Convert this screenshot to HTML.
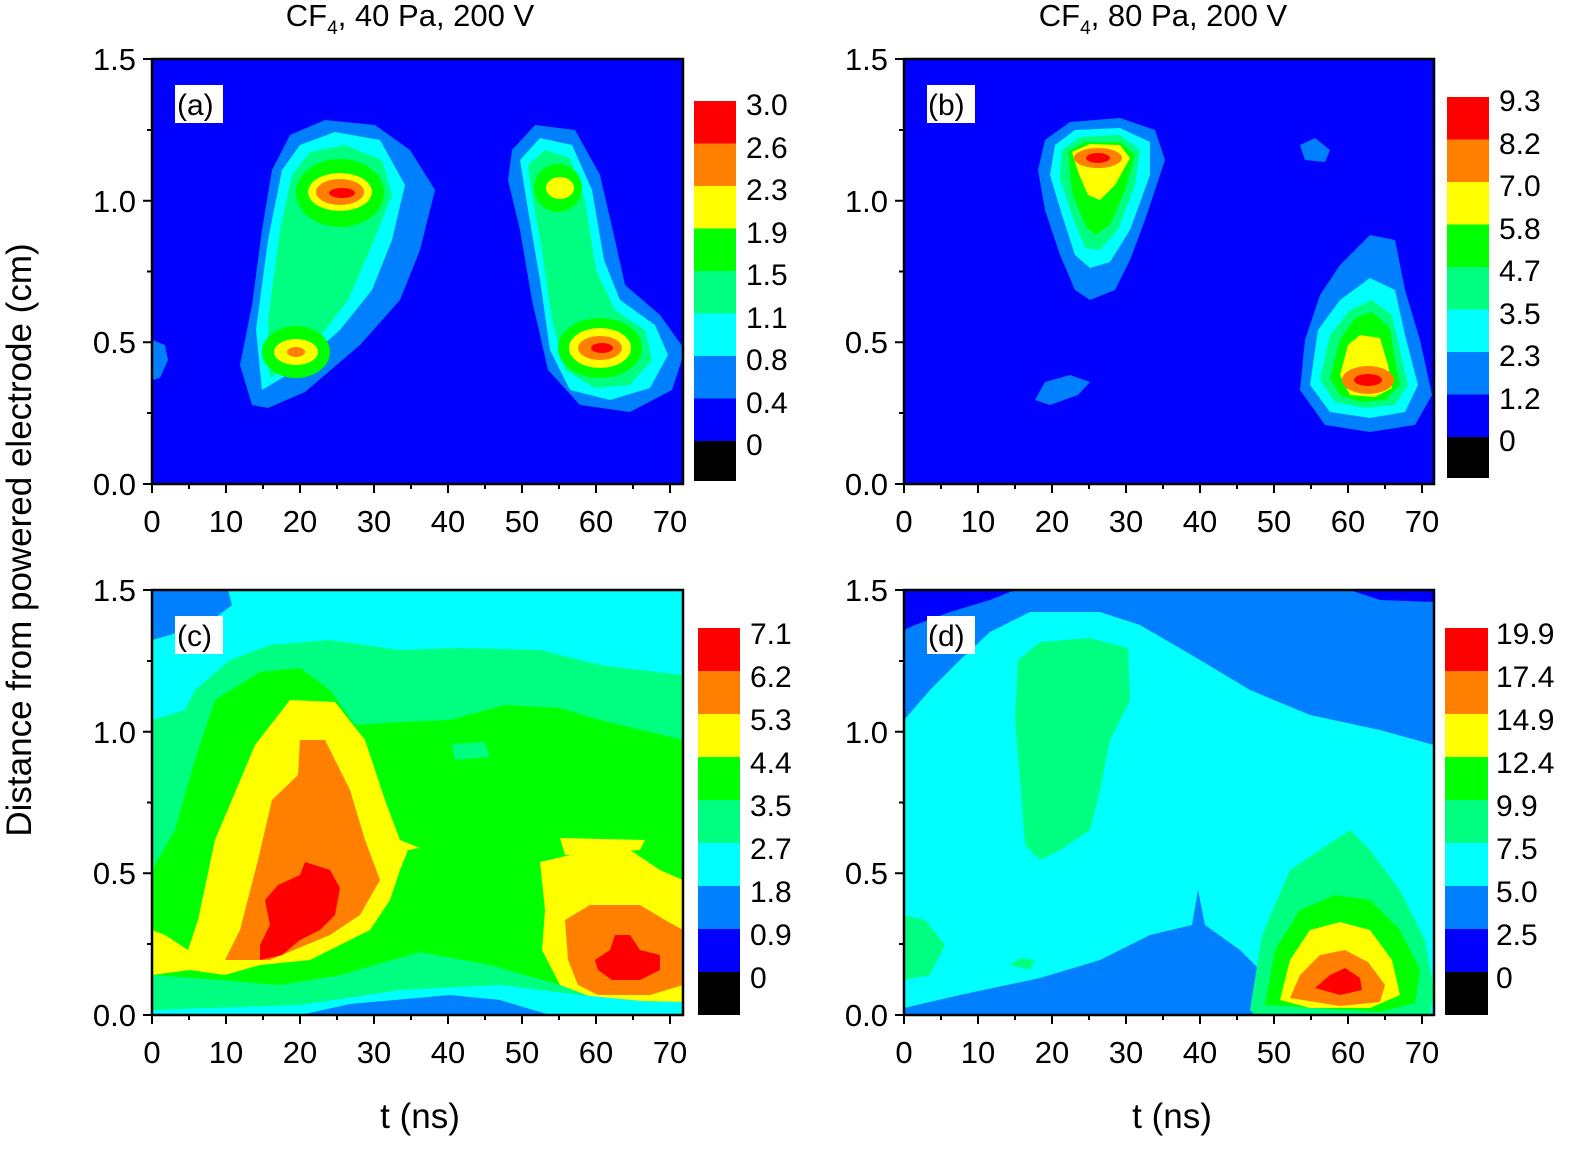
<!DOCTYPE html>
<html><head><meta charset="utf-8"><style>
html,body{margin:0;padding:0;background:#fff}
svg{display:block;font-family:"Liberation Sans",Arial,sans-serif}
</style></head><body>
<svg width="1594" height="1160" viewBox="0 0 1594 1160" xmlns="http://www.w3.org/2000/svg">
<defs>
<clipPath id="ca"><rect x="152" y="59" width="531" height="425"/></clipPath>
<clipPath id="cb"><rect x="904" y="59" width="530" height="425"/></clipPath>
<clipPath id="cc"><rect x="152" y="590" width="531" height="425"/></clipPath>
<clipPath id="cd"><rect x="904" y="590" width="530" height="425"/></clipPath>
</defs>
<!-- Panel a -->
<g clip-path="url(#ca)">
<rect x="152" y="59" width="531" height="425" fill="#0000ff"/>
<path d="M152,340 L165,345 L168,360 L160,378 L152,380Z" fill="#0080ff"/>
<polygon points="252,405 240,365 252,305 262,230 272,170 290,135 325,120 375,125 410,150 435,190 420,250 400,300 360,345 305,392 268,408" fill="#0080ff"/>
<polygon points="262,390 256,330 268,240 282,170 300,145 335,132 380,140 405,185 392,240 372,290 340,330 292,372" fill="#00ffff"/>
<polygon points="270,378 268,320 280,230 292,175 310,152 345,145 382,160 392,195 372,245 348,300 310,350" fill="#00ff80"/>
<ellipse cx="340" cy="193" rx="44" ry="34" fill="#00ff00"/>
<ellipse cx="296" cy="352" rx="34" ry="26" fill="#00ff00"/>
<ellipse cx="340" cy="192" rx="32" ry="19" fill="#ffff00"/>
<ellipse cx="340" cy="192" rx="24" ry="13" fill="#ff8000"/>
<ellipse cx="342" cy="193" rx="13" ry="5" fill="#ff0000"/>
<ellipse cx="296" cy="352" rx="22" ry="13" fill="#ffff00"/>
<ellipse cx="296" cy="352" rx="9" ry="5" fill="#ff8000"/>
<polygon points="512,150 535,125 575,130 600,175 615,240 625,285 660,315 685,350 672,390 630,412 580,405 548,370 532,300 520,230 508,180" fill="#0080ff"/>
<polygon points="520,160 540,138 572,145 592,190 604,260 620,300 655,325 668,355 650,388 610,400 570,390 550,350 540,280 528,210" fill="#00ffff"/>
<polygon points="528,165 545,150 570,158 585,200 596,270 615,310 645,330 652,360 630,385 595,388 565,370 552,320 542,250 532,195" fill="#00ff80"/>
<ellipse cx="558" cy="188" rx="24" ry="24" fill="#00ff00"/>
<ellipse cx="600" cy="348" rx="42" ry="30" fill="#00ff00"/>
<ellipse cx="560" cy="188" rx="14" ry="11" fill="#ffff00"/>
<ellipse cx="600" cy="348" rx="31" ry="20" fill="#ffff00"/>
<ellipse cx="600" cy="348" rx="22" ry="12" fill="#ff8000"/>
<ellipse cx="602" cy="348" rx="11" ry="5" fill="#ff0000"/>
</g>
<!-- Panel b -->
<g clip-path="url(#cb)">
<rect x="904" y="59" width="530" height="425" fill="#0000ff"/>
<polygon points="1045,140 1070,122 1120,118 1155,130 1165,160 1145,220 1130,260 1115,290 1090,300 1075,290 1060,255 1045,210 1038,170" fill="#0080ff"/>
<polygon points="1055,145 1075,130 1120,128 1150,142 1150,175 1130,230 1110,262 1090,268 1075,255 1062,215 1050,175" fill="#00ffff"/>
<polygon points="1062,150 1080,137 1120,135 1140,150 1135,185 1118,230 1100,250 1085,248 1072,215 1060,178" fill="#00ff80"/>
<polygon points="1068,152 1085,142 1120,142 1135,155 1125,190 1110,225 1095,235 1085,225 1072,192" fill="#00ff00"/>
<polygon points="1072,152 1090,144 1120,145 1130,158 1115,185 1100,200 1088,195 1078,172" fill="#ffff00"/>
<ellipse cx="1098" cy="158" rx="24" ry="10" fill="#ff8000"/>
<ellipse cx="1098" cy="158" rx="12" ry="5" fill="#ff0000"/>
<polygon points="1300,145 1315,138 1330,150 1325,162 1305,160" fill="#0080ff"/>
<polygon points="1035,400 1045,382 1070,375 1090,382 1078,395 1050,405" fill="#0080ff"/>
<polygon points="1300,390 1305,340 1320,295 1340,265 1370,235 1395,240 1405,290 1420,340 1432,395 1415,425 1370,432 1325,425" fill="#0080ff"/>
<polygon points="1310,385 1318,330 1340,300 1370,278 1395,290 1405,335 1418,385 1405,412 1370,418 1330,412" fill="#00ffff"/>
<polygon points="1320,380 1330,335 1350,310 1372,300 1392,315 1400,350 1408,385 1395,405 1365,408 1335,402" fill="#00ff80"/>
<polygon points="1330,378 1340,340 1355,318 1372,312 1390,328 1395,360 1400,385 1385,400 1360,402 1340,395" fill="#00ff00"/>
<polygon points="1340,375 1348,345 1360,335 1380,338 1388,365 1392,388 1375,397 1350,395" fill="#ffff00"/>
<ellipse cx="1368" cy="380" rx="26" ry="14" fill="#ff8000"/>
<ellipse cx="1368" cy="380" rx="14" ry="6" fill="#ff0000"/>
</g>
<!-- Panel c -->
<g clip-path="url(#cc)">
<rect x="152" y="590" width="531" height="425" fill="#00ffff"/>
<polygon points="152,590 228,590 232,605 215,618 170,635 152,640" fill="#0080ff"/>
<polygon points="152,720 185,710 195,690 230,660 270,645 330,640 400,650 460,648 540,650 600,665 640,670 683,675 683,1000 600,1005 550,1010 152,1010" fill="#00ff80"/>
<polygon points="152,870 175,830 195,760 215,700 260,672 300,668 330,690 355,725 400,722 450,720 505,705 560,708 600,720 683,740 683,990 560,985 490,965 420,952 340,975 280,985 220,980 152,975" fill="#00ff00"/>
<polygon points="452,744 485,742 490,757 455,760" fill="#00ff80"/>
<polygon points="152,930 165,935 188,950 198,920 215,840 255,745 290,700 335,702 365,740 385,800 400,840 420,848 408,850 400,870 390,900 370,930 310,960 260,965 225,975 190,970 152,975" fill="#ffff00"/>
<polygon points="225,960 240,930 258,860 272,800 298,775 300,740 325,740 335,760 350,790 365,840 380,880 360,915 330,935 270,960" fill="#ff8000"/>
<polygon points="260,960 260,945 270,925 265,900 278,885 300,875 305,862 330,870 340,888 335,915 320,930 300,940 282,955" fill="#ff0000"/>
<polygon points="540,862 570,855 582,840 600,840 630,850 660,870 683,880 683,1002 600,1000 560,985 542,950 545,910" fill="#ffff00"/>
<polygon points="565,855 640,850 645,840 560,838" fill="#ffff00"/>
<polygon points="565,920 590,905 640,905 665,920 683,930 683,985 650,995 598,995 578,985 568,960" fill="#ff8000"/>
<polygon points="595,960 610,950 615,935 630,935 640,950 660,955 660,970 640,980 612,980 598,970" fill="#ff0000"/>
<polygon points="152,1010 300,1005 400,990 500,985 580,995 683,1005 683,1015 152,1015" fill="#00ffff"/>
<polygon points="300,1015 350,1004 450,995 500,1000 550,1015" fill="#0080ff"/>
</g>
<!-- Panel d -->
<g clip-path="url(#cd)">
<rect x="904" y="590" width="530" height="425" fill="#0080ff"/>
<polygon points="904,590 1015,590 990,600 950,612 915,625 904,630" fill="#0000ff"/>
<polygon points="1040,590 1350,590 1380,600 1434,602 1434,590" fill="#0000ff"/>
<polygon points="904,720 930,690 960,660 990,632 1030,612 1100,612 1140,625 1200,660 1250,690 1310,715 1380,730 1434,745 1434,1015 1290,1015 1270,980 1240,950 1205,925 1198,890 1192,925 1150,935 1100,960 1040,978 960,995 904,1008" fill="#00ffff"/>
<polygon points="904,915 925,920 945,945 930,975 904,980" fill="#00ff80"/>
<polygon points="1018,660 1040,642 1090,638 1128,648 1130,700 1110,740 1100,790 1090,830 1060,850 1040,860 1025,845 1020,780 1015,720" fill="#00ff80"/>
<polygon points="1010,965 1020,958 1035,960 1030,970" fill="#00ff80"/>
<polygon points="1250,1010 1262,935 1290,870 1320,850 1350,830 1370,850 1400,890 1425,940 1434,990 1430,1015 1255,1015" fill="#00ff80"/>
<polygon points="1265,1005 1275,950 1300,910 1335,895 1370,900 1400,930 1420,970 1415,1003 1380,1012" fill="#00ff00"/>
<polygon points="1280,1000 1290,960 1310,930 1340,922 1370,930 1392,960 1400,995 1370,1008 1310,1008" fill="#ffff00"/>
<polygon points="1290,998 1300,975 1320,955 1345,950 1368,962 1385,985 1380,1002 1340,1006" fill="#ff8000"/>
<polygon points="1315,988 1330,975 1345,968 1360,978 1362,990 1340,995" fill="#ff0000"/>
</g>
<!-- frames -->
<g fill="none" stroke="#000" stroke-width="2.5">
<rect x="152" y="59" width="531" height="425"/>
<rect x="904" y="59" width="530" height="425"/>
<rect x="152" y="590" width="531" height="425"/>
<rect x="904" y="590" width="530" height="425"/>
</g>
<!-- ticks -->
<g stroke="#000" stroke-width="2">
<path d="M152,484v9M226,484v9M300,484v9M374,484v9M448,484v9M522,484v9M596,484v9M670,484v9M189,484v5M263,484v5M337,484v5M411,484v5M485,484v5M559,484v5M633,484v5
M904,484v9M978,484v9M1052,484v9M1126,484v9M1200,484v9M1274,484v9M1348,484v9M1422,484v9M941,484v5M1015,484v5M1089,484v5M1163,484v5M1237,484v5M1311,484v5M1385,484v5
M152,1015v9M226,1015v9M300,1015v9M374,1015v9M448,1015v9M522,1015v9M596,1015v9M670,1015v9M189,1015v5M263,1015v5M337,1015v5M411,1015v5M485,1015v5M559,1015v5M633,1015v5
M904,1015v9M978,1015v9M1052,1015v9M1126,1015v9M1200,1015v9M1274,1015v9M1348,1015v9M1422,1015v9M941,1015v5M1015,1015v5M1089,1015v5M1163,1015v5M1237,1015v5M1311,1015v5M1385,1015v5
M152,59h-9M152,200.7h-9M152,342.3h-9M152,484h-9M152,130h-5M152,271.5h-5M152,413h-5
M904,59h-9M904,200.7h-9M904,342.3h-9M904,484h-9M904,130h-5M904,271.5h-5M904,413h-5
M152,590h-9M152,731.7h-9M152,873.3h-9M152,1015h-9M152,661h-5M152,802.5h-5M152,944h-5
M904,590h-9M904,731.7h-9M904,873.3h-9M904,1015h-9M904,661h-5M904,802.5h-5M904,944h-5"/>
</g>
<g font-size="31" fill="#000" text-anchor="middle">
<text x="152" y="532">0</text><text x="226" y="532">10</text><text x="300" y="532">20</text><text x="374" y="532">30</text><text x="448" y="532">40</text><text x="522" y="532">50</text><text x="596" y="532">60</text><text x="670" y="532">70</text>
<text x="904" y="532">0</text><text x="978" y="532">10</text><text x="1052" y="532">20</text><text x="1126" y="532">30</text><text x="1200" y="532">40</text><text x="1274" y="532">50</text><text x="1348" y="532">60</text><text x="1422" y="532">70</text>
<text x="152" y="1063">0</text><text x="226" y="1063">10</text><text x="300" y="1063">20</text><text x="374" y="1063">30</text><text x="448" y="1063">40</text><text x="522" y="1063">50</text><text x="596" y="1063">60</text><text x="670" y="1063">70</text>
<text x="904" y="1063">0</text><text x="978" y="1063">10</text><text x="1052" y="1063">20</text><text x="1126" y="1063">30</text><text x="1200" y="1063">40</text><text x="1274" y="1063">50</text><text x="1348" y="1063">60</text><text x="1422" y="1063">70</text>
</g>
<g font-size="31" fill="#000" text-anchor="end">
<text x="136" y="70">1.5</text><text x="136" y="212">1.0</text><text x="136" y="353">0.5</text><text x="136" y="495">0.0</text>
<text x="888" y="70">1.5</text><text x="888" y="212">1.0</text><text x="888" y="353">0.5</text><text x="888" y="495">0.0</text>
<text x="136" y="601">1.5</text><text x="136" y="743">1.0</text><text x="136" y="884">0.5</text><text x="136" y="1026">0.0</text>
<text x="888" y="601">1.5</text><text x="888" y="743">1.0</text><text x="888" y="884">0.5</text><text x="888" y="1026">0.0</text>
</g>
<!-- panel labels -->
<g font-size="30" fill="#000">
<rect x="175" y="85" width="48" height="38" fill="#fff"/><text x="177" y="115">(a)</text>
<rect x="927" y="85" width="48" height="38" fill="#fff"/><text x="928" y="115">(b)</text>
<rect x="175" y="616" width="48" height="38" fill="#fff"/><text x="177" y="646">(c)</text>
<rect x="927" y="616" width="48" height="38" fill="#fff"/><text x="928" y="646">(d)</text>
</g>
<!-- colorbars -->
<g>
<rect x="694" y="101" width="42" height="42.5" fill="#ff0000"/><rect x="694" y="143.5" width="42" height="42.5" fill="#ff8000"/><rect x="694" y="186" width="42" height="42.5" fill="#ffff00"/><rect x="694" y="228.5" width="42" height="42.5" fill="#00ff00"/><rect x="694" y="271" width="42" height="42.5" fill="#00ff80"/><rect x="694" y="313.5" width="42" height="42.5" fill="#00ffff"/><rect x="694" y="356" width="42" height="42.5" fill="#0080ff"/><rect x="694" y="398.5" width="42" height="42.5" fill="#0000ff"/><rect x="694" y="441" width="42" height="40" fill="#000"/>
<rect x="1447" y="97" width="42" height="42.5" fill="#ff0000"/><rect x="1447" y="139.5" width="42" height="42.5" fill="#ff8000"/><rect x="1447" y="182" width="42" height="42.5" fill="#ffff00"/><rect x="1447" y="224.5" width="42" height="42.5" fill="#00ff00"/><rect x="1447" y="267" width="42" height="42.5" fill="#00ff80"/><rect x="1447" y="309.5" width="42" height="42.5" fill="#00ffff"/><rect x="1447" y="352" width="42" height="42.5" fill="#0080ff"/><rect x="1447" y="394.5" width="42" height="42.5" fill="#0000ff"/><rect x="1447" y="437" width="42" height="41" fill="#000"/>
<rect x="698" y="628" width="42" height="43" fill="#ff0000"/><rect x="698" y="671" width="42" height="43" fill="#ff8000"/><rect x="698" y="714" width="42" height="43" fill="#ffff00"/><rect x="698" y="757" width="42" height="43" fill="#00ff00"/><rect x="698" y="800" width="42" height="43" fill="#00ff80"/><rect x="698" y="843" width="42" height="43" fill="#00ffff"/><rect x="698" y="886" width="42" height="43" fill="#0080ff"/><rect x="698" y="929" width="42" height="43" fill="#0000ff"/><rect x="698" y="972" width="42" height="43" fill="#000"/>
<rect x="1445" y="628" width="43" height="43" fill="#ff0000"/><rect x="1445" y="671" width="43" height="43" fill="#ff8000"/><rect x="1445" y="714" width="43" height="43" fill="#ffff00"/><rect x="1445" y="757" width="43" height="43" fill="#00ff00"/><rect x="1445" y="800" width="43" height="43" fill="#00ff80"/><rect x="1445" y="843" width="43" height="43" fill="#00ffff"/><rect x="1445" y="886" width="43" height="43" fill="#0080ff"/><rect x="1445" y="929" width="43" height="43" fill="#0000ff"/><rect x="1445" y="972" width="43" height="43" fill="#000"/>
</g>
<g font-size="30" fill="#000">
<text x="746" y="115">3.0</text><text x="746" y="158">2.6</text><text x="746" y="200">2.3</text><text x="746" y="243">1.9</text><text x="746" y="285">1.5</text><text x="746" y="328">1.1</text><text x="746" y="370">0.8</text><text x="746" y="413">0.4</text><text x="746" y="455">0</text>
<text x="1499" y="111">9.3</text><text x="1499" y="154">8.2</text><text x="1499" y="196">7.0</text><text x="1499" y="239">5.8</text><text x="1499" y="281">4.7</text><text x="1499" y="324">3.5</text><text x="1499" y="366">2.3</text><text x="1499" y="409">1.2</text><text x="1499" y="451">0</text>
<text x="750" y="644">7.1</text><text x="750" y="687">6.2</text><text x="750" y="730">5.3</text><text x="750" y="773">4.4</text><text x="750" y="816">3.5</text><text x="750" y="859">2.7</text><text x="750" y="902">1.8</text><text x="750" y="945">0.9</text><text x="750" y="988">0</text>
<text x="1496" y="644">19.9</text><text x="1496" y="687">17.4</text><text x="1496" y="730">14.9</text><text x="1496" y="773">12.4</text><text x="1496" y="816">9.9</text><text x="1496" y="859">7.5</text><text x="1496" y="902">5.0</text><text x="1496" y="945">2.5</text><text x="1496" y="988">0</text>
</g>
<!-- titles -->
<g font-size="31" fill="#000" text-anchor="middle">
<text x="410" y="26">CF<tspan font-size="19" dy="8">4</tspan><tspan dy="-8">, 40 Pa, 200 V</tspan></text>
<text x="1163" y="26">CF<tspan font-size="19" dy="8">4</tspan><tspan dy="-8">, 80 Pa, 200 V</tspan></text>
</g>
<g font-size="35" fill="#000" text-anchor="middle">
<text x="420" y="1128">t (ns)</text>
<text x="1172" y="1128">t (ns)</text>
<text transform="translate(31,540) rotate(-90)">Distance from powered electrode (cm)</text>
</g>
</svg>
</body></html>
